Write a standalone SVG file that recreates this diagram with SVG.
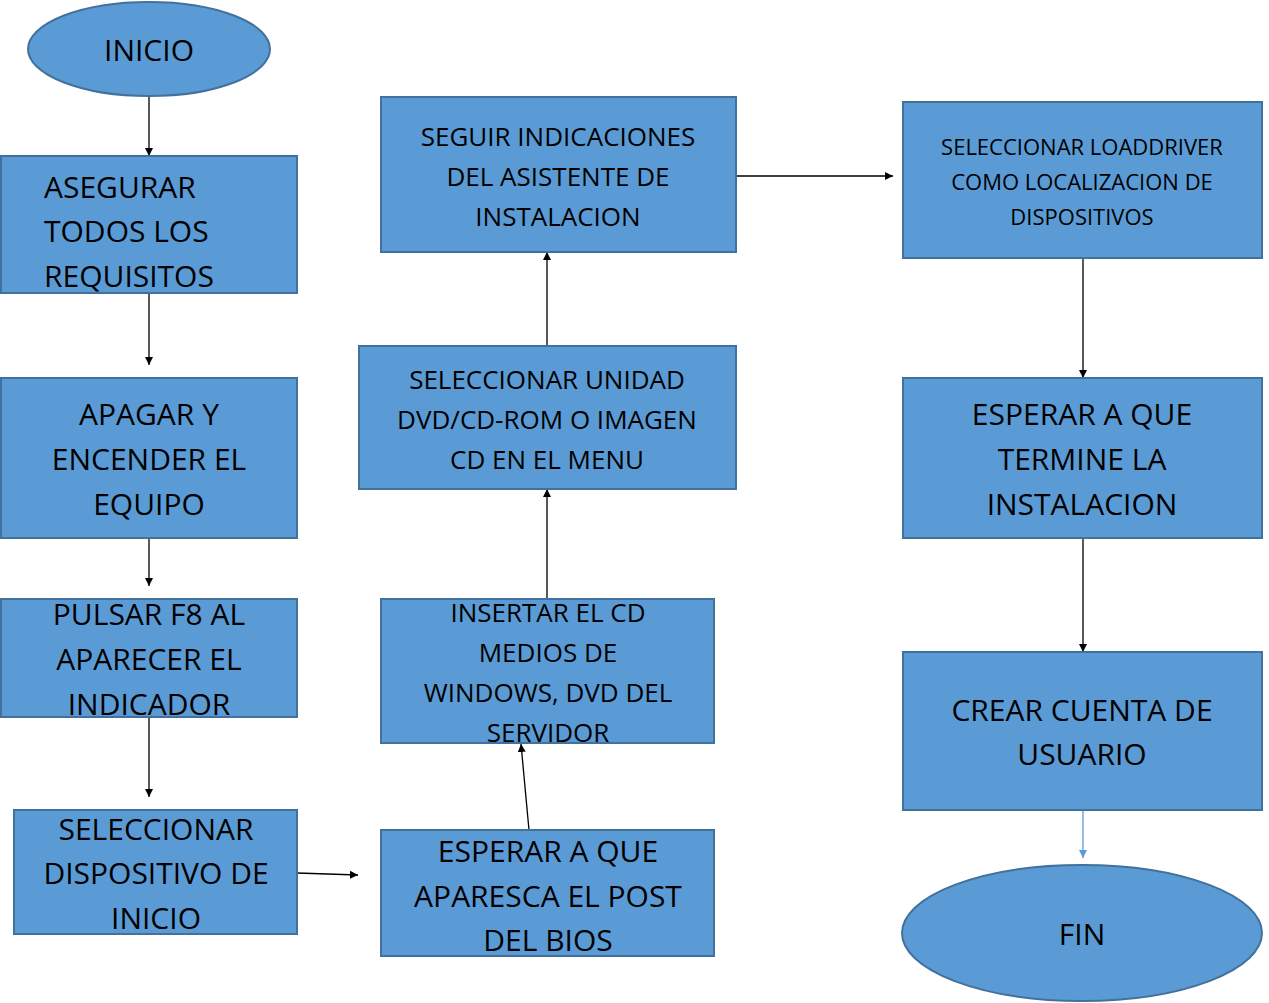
<svg xmlns="http://www.w3.org/2000/svg" width="1269" height="1003" viewBox="0 0 1269 1003">
<defs>
<style>
.n{fill:#5B9BD5;stroke:#41719C;stroke-width:2}
text{font-family:"Open Sans","Liberation Sans",sans-serif;fill:#000;text-anchor:middle;dominant-baseline:central}
.l{font-size:30px}.m{font-size:26px}.s{font-size:22px}
.c{stroke:#000;stroke-width:1.3;fill:none;marker-end:url(#a)}
</style>
<marker id="a" viewBox="0 0 10 10" refX="10" refY="5" markerWidth="8" markerHeight="8" markerUnits="userSpaceOnUse" orient="auto"><path d="M0,0L10,5L0,10z" fill="#000"/></marker>
<marker id="b" viewBox="0 0 10 10" refX="10" refY="5" markerWidth="8" markerHeight="8" markerUnits="userSpaceOnUse" orient="auto"><path d="M0,0L10,5L0,10z" fill="#5B9BD5"/></marker>
</defs>
<g id="connectors">
<path class="c" d="M149,97V156"/>
<path class="c" d="M149,293V365"/>
<path class="c" d="M149,538V586"/>
<path class="c" d="M149,717V797"/>
<path class="c" d="M297,873L358,875"/>
<path class="c" d="M529,830L521,744"/>
<path class="c" d="M547,599V489"/>
<path class="c" d="M547,346V252"/>
<path class="c" d="M736,176H893"/>
<path class="c" d="M1083,258V378"/>
<path class="c" d="M1083,538V652"/>
<path d="M1083,810V858" stroke="#5B9BD5" stroke-width="1.3" marker-end="url(#b)"/>
</g>
<g id="inicio"><ellipse class="n" cx="149" cy="49" rx="121" ry="47"/><text class="l" x="149" y="49">INICIO</text></g>
<g id="n1"><rect class="n" x="1" y="156" width="296" height="137"/><text class="l" style="text-anchor:start" x="44" y="186">ASEGURAR</text><text class="l" style="text-anchor:start" x="44" y="230">TODOS LOS</text><text class="l" style="text-anchor:start" x="44" y="275">REQUISITOS</text></g>
<g id="n2"><rect class="n" x="1" y="378" width="296" height="160"/><text class="l" x="149" y="413">APAGAR Y</text><text class="l" x="149" y="458">ENCENDER EL</text><text class="l" x="149" y="503">EQUIPO</text></g>
<g id="n3"><rect class="n" x="1" y="599" width="296" height="118"/><text class="l" x="149" y="613">PULSAR F8 AL</text><text class="l" x="149" y="658">APARECER EL</text><text class="l" x="149" y="703">INDICADOR</text></g>
<g id="n4"><rect class="n" x="14" y="810" width="283" height="124"/><text class="l" x="156" y="828">SELECCIONAR</text><text class="l" x="156" y="872">DISPOSITIVO DE</text><text class="l" x="156" y="917">INICIO</text></g>
<g id="n5"><rect class="n" x="381" y="830" width="333" height="126"/><text class="l" x="548" y="850">ESPERAR A QUE</text><text class="l" x="548" y="895">APARESCA EL POST</text><text class="l" x="548" y="939">DEL BIOS</text></g>
<g id="n6"><rect class="n" x="381" y="599" width="333" height="144"/><text class="m" x="548" y="612">INSERTAR EL CD</text><text class="m" x="548" y="652">MEDIOS DE</text><text class="m" x="548" y="692">WINDOWS, DVD DEL</text><text class="m" x="548" y="732">SERVIDOR</text></g>
<g id="n7"><rect class="n" x="359" y="346" width="377" height="143"/><text class="m" x="547" y="379">SELECCIONAR UNIDAD</text><text class="m" x="547" y="419">DVD/CD-ROM O IMAGEN</text><text class="m" x="547" y="459">CD EN EL MENU</text></g>
<g id="n8"><rect class="n" x="381" y="97" width="355" height="155"/><text class="m" x="558" y="136">SEGUIR INDICACIONES</text><text class="m" x="558" y="176">DEL ASISTENTE DE</text><text class="m" x="558" y="216">INSTALACION</text></g>
<g id="n9"><rect class="n" x="903" y="102" width="359" height="156"/><text class="s" x="1082" y="146">SELECCIONAR LOADDRIVER</text><text class="s" x="1082" y="181">COMO LOCALIZACION DE</text><text class="s" x="1082" y="216">DISPOSITIVOS</text></g>
<g id="n10"><rect class="n" x="903" y="378" width="359" height="160"/><text class="l" x="1082" y="413">ESPERAR A QUE</text><text class="l" x="1082" y="458">TERMINE LA</text><text class="l" x="1082" y="503">INSTALACION</text></g>
<g id="n11"><rect class="n" x="903" y="652" width="359" height="158"/><text class="l" x="1082" y="709">CREAR CUENTA DE</text><text class="l" x="1082" y="753">USUARIO</text></g>
<g id="fin"><ellipse class="n" cx="1082" cy="933" rx="180" ry="68"/><text class="l" x="1082" y="933">FIN</text></g>
</svg>
